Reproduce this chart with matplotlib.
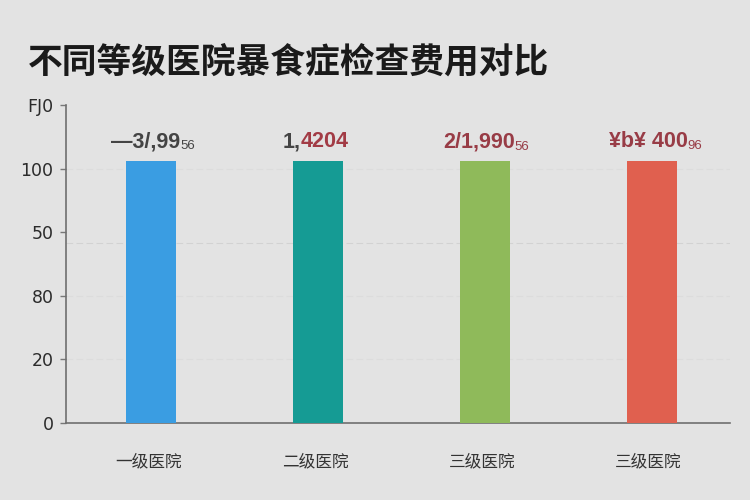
"""Bar chart of examination cost by hospital grade."""

import matplotlib.pyplot as plt
from matplotlib.transforms import ScaledTranslation

plt.rcParams['font.family'] = ['Noto Sans CJK SC', 'DejaVu Sans']

# ---------------------------------------------------------------------------
# Data
# ---------------------------------------------------------------------------
title = "不同等级医院暴食症检查费用对比"
categories = ["一级医院", "二级医院", "三级医院", "三级医院"]
values = [82.5, 82.5, 82.4, 82.5]
colors = ["#3a9de2", "#159b94", "#8fba5a", "#e0604f"]

tick_pos = [0, 20, 40, 60, 80, 100]
tick_labels = ["0", "20", "80", "50", "100", "FJ0"]
grid_levels = [20, 40, 56.5, 80]
grid_colors = ["#dcdcdc", "#dcdcdc", "#d2d2d2", "#dcdcdc"]

# value labels as they read in the picture: first part, main part, small suffix
labels_lead = ["—3/,99", "1,", "2/1,990", "¥b¥ 400"]
labels_main = ["", "4204", "", ""]
labels_small = ["56", "", "56", "96"]
lead_colors = ["#444444", "#444444", "#983c46", "#983c46"]
main_color = "#a23b45"
label_shift = [-40, -35, -42, -43]

BG = "#e3e3e3"

fig = plt.figure(figsize=(7.5, 5), dpi=100, facecolor=BG)
ax = fig.add_axes([66 / 750, 77 / 500, 664 / 750, 318 / 500], facecolor=BG)

x = range(len(categories))
bars = ax.bar(x, values, width=0.3, color=colors, zorder=3)

for level, c in zip(grid_levels, grid_colors):
    ax.axhline(level, color=c, lw=0.8, ls=(0, (6, 3)), zorder=1)

ax.set_xlim(-0.51, 3.47)
ax.set_ylim(0, 100)
ax.set_yticks(tick_pos)
ax.set_yticklabels(tick_labels, fontsize=12.5, color="#2b2b2b", family="DejaVu Sans")
ax.tick_params(axis='y', length=4, width=1, color="#777777", pad=5)
ax.set_xticks(list(x))
ax.set_xticklabels(categories, fontsize=12, color="#333333")
ax.tick_params(axis='x', length=0, pad=22)

# category labels sit a little left of the bar centres
nudge = ScaledTranslation(-3 / 100, 0, fig.dpi_scale_trans)
for lab in ax.get_xticklabels():
    lab.set_transform(lab.get_transform() + nudge)

for side in ("top", "right"):
    ax.spines[side].set_visible(False)
for side in ("left", "bottom"):
    ax.spines[side].set_color("#6f6f6f")
    ax.spines[side].set_linewidth(1.2)

# value labels above the bars, each part starts where the one before it ends
for i, bar in enumerate(bars):
    prev = ax.annotate(labels_lead[i], xy=(i, bar.get_height()), xytext=(label_shift[i] * 0.72, 6),
                       textcoords="offset points", ha="left", va="bottom", fontsize=15.5,
                       fontweight="bold", color=lead_colors[i], family="Liberation Sans", zorder=5)
    if labels_main[i]:
        prev = ax.annotate(labels_main[i], xy=(1, 0), xycoords=prev, ha="left", va="bottom",
                           fontsize=15.5, fontweight="bold", color=main_color,
                           family="Liberation Sans", zorder=5)
    if labels_small[i]:
        ax.annotate(labels_small[i], xy=(1, 0), xycoords=prev, ha="left", va="bottom",
                    fontsize=9.5, color=lead_colors[i], family="Liberation Sans", zorder=5)

fig.text(28 / 750, 1 - 62 / 500, title, fontsize=25, fontweight="bold",
         color="#1a1a1a", ha="left", va="center")

fig.savefig("out.png", dpi=100, facecolor=BG)
